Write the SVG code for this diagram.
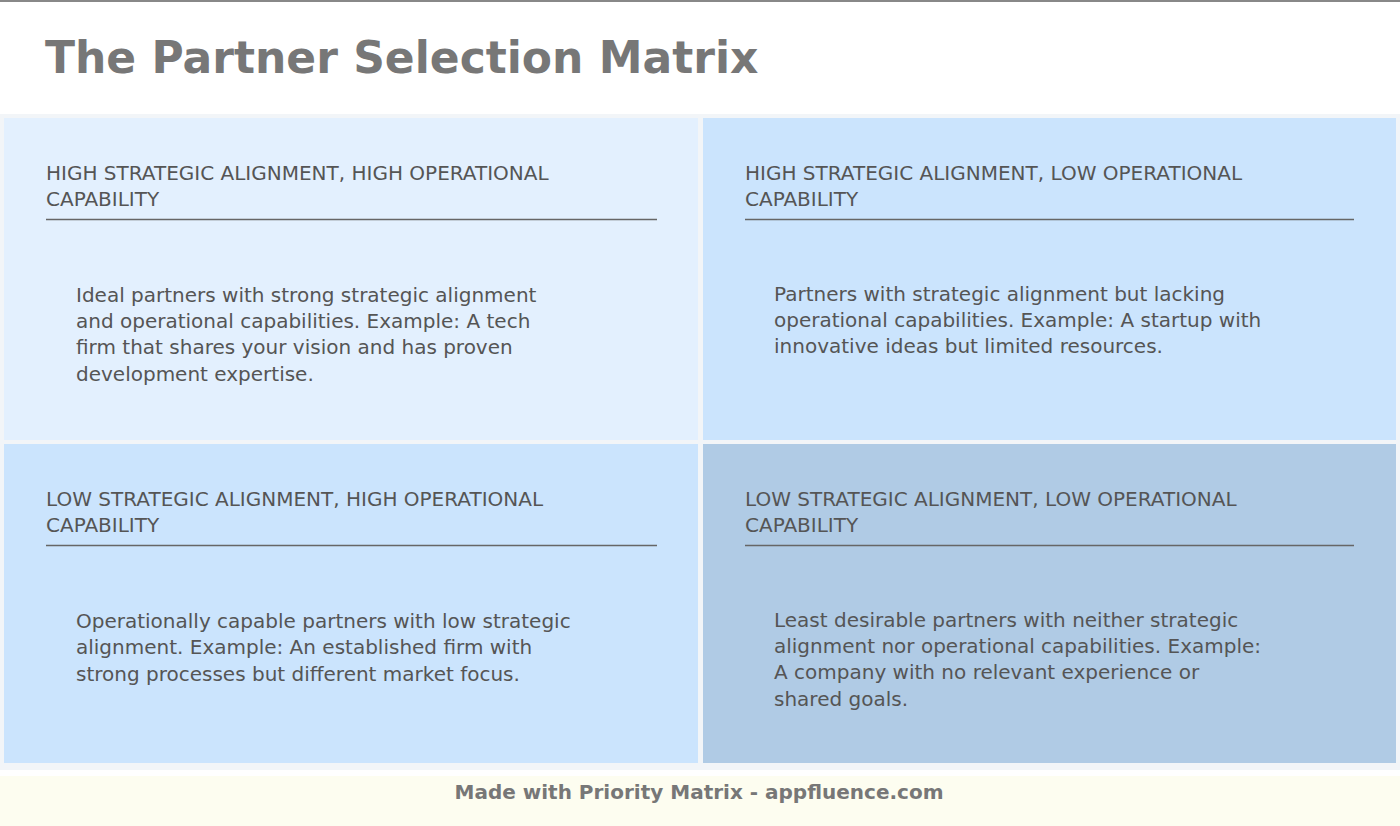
<svg xmlns="http://www.w3.org/2000/svg" width="1400" height="826" viewBox="0 0 1400 826">
<style>
text{font-family:"DejaVu Sans",sans-serif;fill:#555}
.h{font-size:20px}
.d{font-size:20px}
.ln{stroke:#666;stroke-width:1.5}
</style>
<rect width="1400" height="826" fill="#fff"/>
<rect x="0" y="0" width="1400" height="2" fill="#888"/>
<text x="45" y="73" font-size="44" font-weight="bold" style="fill:#777">The Partner Selection Matrix</text>
<rect x="0" y="114" width="1400" height="656" fill="#f2f5f8"/>
<g id="q1"><rect x="4" y="118" width="694" height="322" fill="#e3f0fe"/>
<text class="h" x="46" y="180">HIGH STRATEGIC ALIGNMENT, HIGH OPERATIONAL</text><text class="h" x="46" y="206">CAPABILITY</text>
<line class="ln" x1="46" y1="219.5" x2="657" y2="219.5"/>
<text class="d" x="76" y="302">Ideal partners with strong strategic alignment</text><text class="d" x="76" y="328">and operational capabilities. Example: A tech</text><text class="d" x="76" y="354">firm that shares your vision and has proven</text><text class="d" x="76" y="381">development expertise.</text></g>
<g id="q2"><rect x="703" y="118" width="693" height="322" fill="#cbe4fd"/>
<text class="h" x="745" y="180">HIGH STRATEGIC ALIGNMENT, LOW OPERATIONAL</text><text class="h" x="745" y="206">CAPABILITY</text>
<line class="ln" x1="745" y1="219.5" x2="1354" y2="219.5"/>
<text class="d" x="774" y="301">Partners with strategic alignment but lacking</text><text class="d" x="774" y="327">operational capabilities. Example: A startup with</text><text class="d" x="774" y="353">innovative ideas but limited resources.</text></g>
<g id="q3"><rect x="4" y="444" width="694" height="319" fill="#cbe4fd"/>
<text class="h" x="46" y="506">LOW STRATEGIC ALIGNMENT, HIGH OPERATIONAL</text><text class="h" x="46" y="532">CAPABILITY</text>
<line class="ln" x1="46" y1="545.5" x2="657" y2="545.5"/>
<text class="d" x="76" y="628">Operationally capable partners with low strategic</text><text class="d" x="76" y="654">alignment. Example: An established firm with</text><text class="d" x="76" y="681">strong processes but different market focus.</text></g>
<g id="q4"><rect x="703" y="444" width="693" height="319" fill="#b0cbe5"/>
<text class="h" x="745" y="506">LOW STRATEGIC ALIGNMENT, LOW OPERATIONAL</text><text class="h" x="745" y="532">CAPABILITY</text>
<line class="ln" x1="745" y1="545.5" x2="1354" y2="545.5"/>
<text class="d" x="774" y="627">Least desirable partners with neither strategic</text><text class="d" x="774" y="653">alignment nor operational capabilities. Example:</text><text class="d" x="774" y="679">A company with no relevant experience or</text><text class="d" x="774" y="706">shared goals.</text></g>
<rect x="0" y="776" width="1400" height="50" fill="#fdfdf0"/>
<text x="699" y="799" font-size="20" font-weight="bold" text-anchor="middle" style="fill:#777">Made with Priority Matrix - appfluence.com</text>
</svg>
